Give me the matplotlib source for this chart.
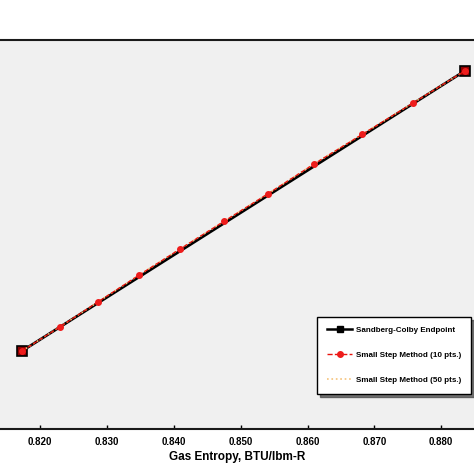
import matplotlib
matplotlib.use("Agg")
import matplotlib.pyplot as plt
from matplotlib.lines import Line2D

# Data (hidden y-axis in arbitrary units)
entropy_10 = [0.81726, 0.82290, 0.82868, 0.83473, 0.84091, 0.84750,
              0.85409, 0.86097, 0.86820, 0.87579, 0.88353]
yval_10 = [78.0, 102.0, 127.3, 153.7, 180.0, 207.7, 235.3, 265.0, 294.7, 326.0, 358.0]
entropy_end = [0.81726, 0.88353]
yval_end = [78.0, 358.0]
entropy_50 = entropy_10
yval_50 = yval_10
xticks = [0.820, 0.830, 0.840, 0.850, 0.860, 0.870, 0.880]
xtick_labels = ["0.820", "0.830", "0.840", "0.850", "0.860", "0.870", "0.880"]

plt.rcParams['font.family'] = ['Liberation Sans', 'DejaVu Sans']

fig = plt.figure(figsize=(4.74, 4.74), dpi=100)
ax = fig.add_axes([-5/474, 45/474, 484/474, 389/474])
ax.set_facecolor('#f0f0f0')

def px2x(p):
    return 0.820 + (p - 40.3) / 6680.0

ax.set_xlim(px2x(-5), px2x(479))
ax.set_ylim(0, 389)

ax.plot(entropy_end, yval_end, color='black', lw=2.0, marker='s', ms=6.5,
        mfc='#8b0000', mec='black', mew=1.2, zorder=2)
ax.plot(entropy_50, yval_50, color='#f5c27a', lw=1.2, ls=':', zorder=3)
ax.plot(entropy_10, yval_10, color='#e8120c', lw=0.9, ls='--', marker='o', ms=4,
        mfc='#ee1c1c', mec='#ee1c1c', zorder=4)

ax.set_xticks(xticks)
ax.set_xticklabels(xtick_labels, fontsize=7, fontweight='bold')
ax.set_yticks([])
ax.tick_params(axis='x', direction='in', length=3, width=1, pad=5.5, colors='black')
for s in ['top', 'bottom']:
    ax.spines[s].set_linewidth(1.5)
    ax.spines[s].set_color('#1a1a1a')
ax.spines['left'].set_visible(False)
ax.spines['right'].set_visible(False)

ax.set_xlabel('Gas Entropy, BTU/lbm-R', fontsize=8.5, fontweight='bold', labelpad=3)

handles = [
    Line2D([], [], color='black', lw=1.8, marker='s', ms=4, mfc='black', mec='black'),
    Line2D([], [], color='#e8120c', lw=1.0, ls='--', marker='o', ms=4,
           mfc='#ee1c1c', mec='#ee1c1c'),
    Line2D([], [], color='#f5c27a', lw=1.2, ls=':'),
]
labels = ['Sandberg-Colby Endpoint', 'Small Step Method (10 pts.)',
          'Small Step Method (50 pts.)']
leg = fig.legend(handles, labels, loc='upper right',
                 bbox_to_anchor=(471/474, 1 - 317/474),
                 prop={'size': 5.8, 'weight': 'bold'}, frameon=True, fancybox=False,
                 shadow={'color': '#404040', 'alpha': 0.7}, labelspacing=2.15,
                 handlelength=3.2, handletextpad=0.45, borderpad=1.2,
                 borderaxespad=0)
leg.get_frame().set_edgecolor('black')
leg.get_frame().set_linewidth(1.0)
leg.get_frame().set_facecolor('white')
leg.get_frame().set_alpha(1)

fig.savefig('out.png', dpi=100)
